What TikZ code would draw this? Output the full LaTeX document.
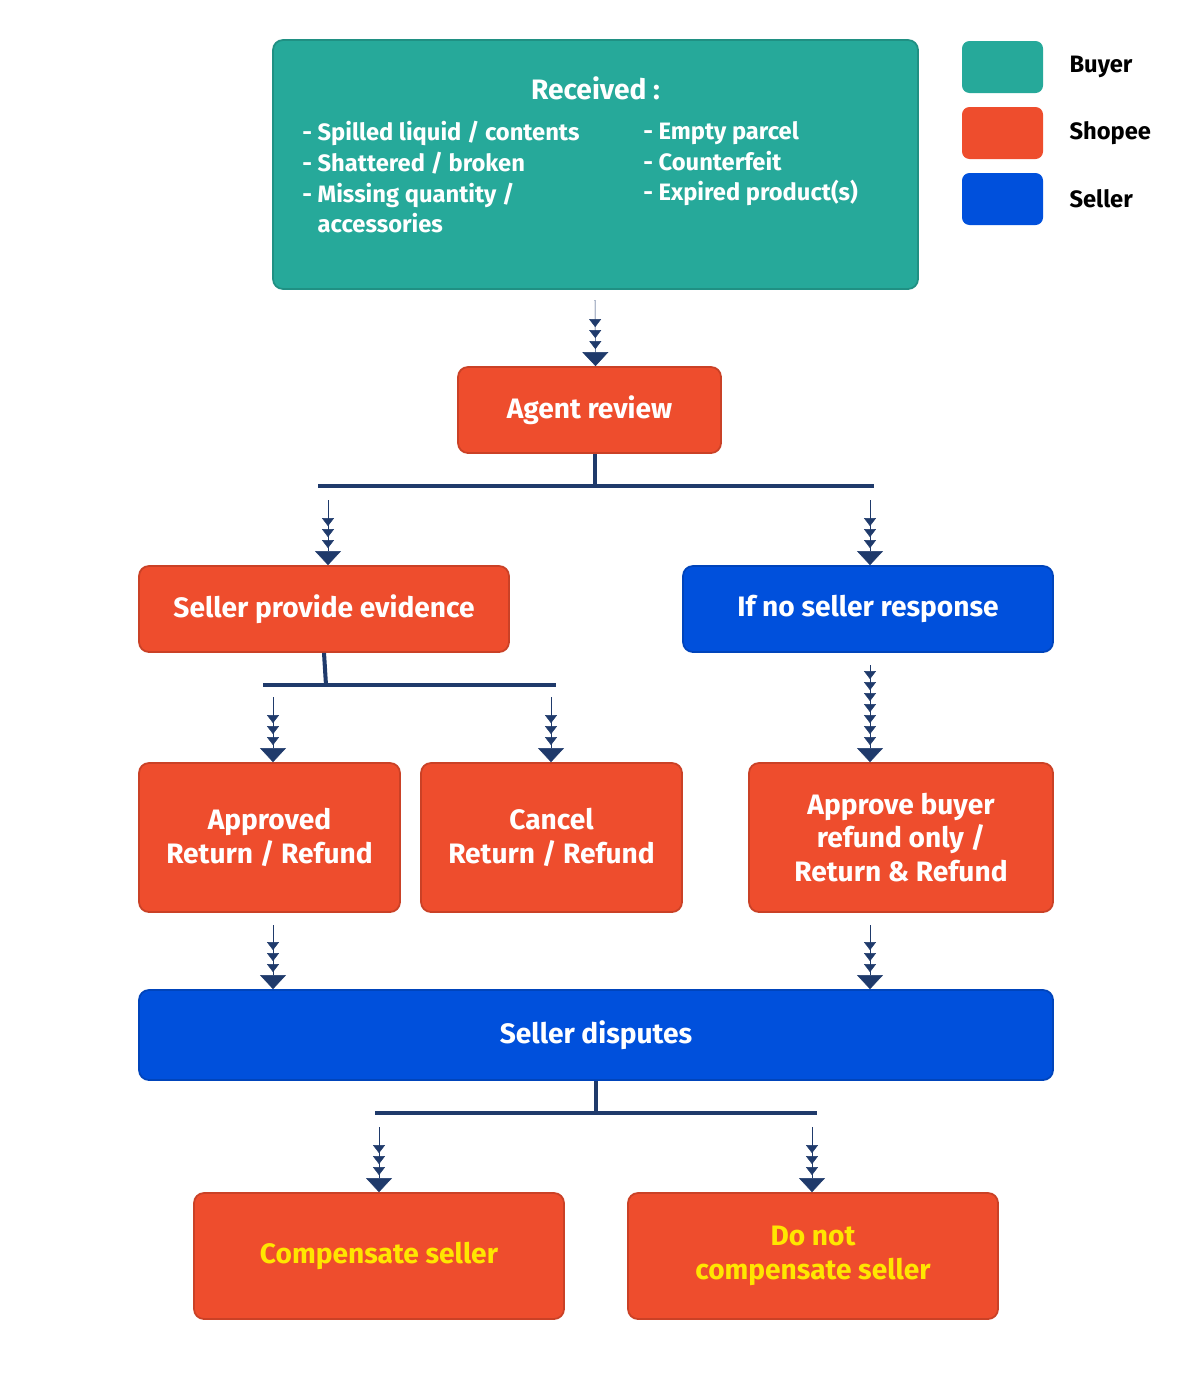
\documentclass[tikz,border=0pt]{standalone}
\usepackage{fontspec}
\setmainfont{Fira Sans}
\usetikzlibrary{arrows.meta}
\definecolor{buyer}{HTML}{26A99A}
\definecolor{shopee}{HTML}{EE4D2D}
\definecolor{seller}{HTML}{0050DC}
\definecolor{navy}{HTML}{1F3A6B}
\definecolor{hilite}{HTML}{FFE600}
\newcommand{\smalltip}{Triangle[width=.24cm,length=.16cm,sep=.06cm]}
\tikzset{
  box/.style={rounded corners=.2cm, minimum height=1.72cm, text=white, align=center,
    font=\bfseries\fontsize{16}{19}\selectfont, inner sep=0pt},
  buyerbox/.style={box, fill=buyer, draw=buyer!85!black, line width=1pt},
  shopeebox/.style={box, fill=shopee, draw=shopee!85!black, line width=1pt},
  sellerbox/.style={box, fill=seller, draw=seller!85!black, line width=1pt},
  bar/.style={navy, line width=2.3pt},
  dots3/.style={navy, line width=.3pt, -{\smalltip\smalltip\smalltip Triangle[width=.52cm,length=.28cm]}},
  dots7/.style={navy, line width=.3pt, -{\smalltip\smalltip\smalltip\smalltip\smalltip\smalltip\smalltip Triangle[width=.52cm,length=.28cm]}},
  legend/.style={rounded corners=.15cm, minimum width=1.62cm, minimum height=1.04cm, inner sep=0pt},
  item/.style={text=white, font=\bfseries\fontsize{13.5}{17.5}\selectfont, align=left, anchor=north west, inner sep=0pt}
}
\begin{document}
\begin{tikzpicture}
  \useasboundingbox (0,0) rectangle (24,-27.68);

  % Buyer box
  \node[buyerbox, minimum width=12.9cm, minimum height=4.98cm] (received) at (11.91,-3.29) {};
  \node[text=white, font=\bfseries\fontsize{16}{19}\selectfont] (title) at (11.91,-1.76) {Received :};
  \node[item] (leftcol) at (6.04,-2.42) {- Spilled liquid / contents\\- Shattered / broken\\- Missing quantity /\\\hphantom{- }accessories};
  \node[item] (rightcol) at (12.86,-2.42) {- Empty parcel\\- Counterfeit\\- Expired product(s)};

  % Flow nodes
  \node[shopeebox, minimum width=5.26cm] (agent) at (11.79,-8.2) {Agent review};
  \node[shopeebox, minimum width=7.4cm] (evidence) at (6.48,-12.18) {Seller provide evidence};
  \node[sellerbox, minimum width=7.4cm] (noresp) at (17.36,-12.18) {If no seller response};
  \node[shopeebox, minimum width=5.22cm, minimum height=2.98cm] (approved) at (5.39,-16.75) {Approved\\Return / Refund};
  \node[shopeebox, minimum width=5.22cm, minimum height=2.98cm] (cancel) at (11.03,-16.75) {Cancel\\Return / Refund};
  \node[shopeebox, minimum width=6.08cm, minimum height=2.98cm] (approvebuyer) at (18.02,-16.75) {Approve buyer\\refund only /\\Return \& Refund};
  \node[sellerbox, minimum width=18.28cm, minimum height=1.8cm] (disputes) at (11.92,-20.7) {Seller disputes};
  \node[shopeebox, minimum width=7.4cm, minimum height=2.52cm, text=hilite] (comp) at (7.58,-25.12) {Compensate seller};
  \node[shopeebox, minimum width=7.4cm, minimum height=2.52cm, text=hilite] (nocomp) at (16.26,-25.12) {Do not\\compensate seller};

  % Legend
  \node[legend, fill=buyer] (lbuyer) at (20.05,-1.34) {};
  \node[legend, fill=shopee] (lshopee) at (20.05,-2.66) {};
  \node[legend, fill=seller] (lseller) at (20.05,-3.98) {};
  \foreach \n/\t in {lbuyer/Buyer, lshopee/Shopee, lseller/Seller}
    \node[anchor=west, font=\bfseries\fontsize{13.5}{16}\selectfont] at ([xshift=.4cm]\n.east) {\t};

  % Arrows and bars
  \coordinate (s0) at (11.9,-6.0);
  \draw[dots3] (s0) -- (received.south |- agent.north);

  \draw[bar] (agent.south -| 11.9,0) -- (11.9,-9.72);
  \draw[bar] (6.36,-9.72) -- (17.48,-9.72);
  \coordinate (s1) at (6.56,-10.0);
  \coordinate (s2) at (17.4,-10.0);
  \draw[dots3] (s1) -- (s1 |- evidence.north);
  \draw[dots3] (s2) -- (s2 |- noresp.north);

  \draw[bar] (evidence.south) -- (6.52,-13.7);
  \draw[bar] (5.26,-13.7) -- (11.12,-13.7);
  \coordinate (s3) at (5.46,-13.94);
  \coordinate (s4) at (11.02,-13.94);
  \draw[dots3] (s3) -- (s3 |- approved.north);
  \draw[dots3] (s4) -- (s4 |- cancel.north);
  \coordinate (s5) at (17.4,-13.3);
  \draw[dots7] (s5) -- (s5 |- approvebuyer.north);

  \coordinate (s6) at (5.46,-18.5);
  \coordinate (s7) at (17.4,-18.5);
  \draw[dots3] (s6) -- (s6 |- disputes.north);
  \draw[dots3] (s7) -- (s7 |- disputes.north);

  \draw[bar] (disputes.south) -- (11.92,-22.26);
  \draw[bar] (7.5,-22.26) -- (16.34,-22.26);
  \coordinate (s8) at (7.58,-22.54);
  \coordinate (s9) at (16.24,-22.54);
  \draw[dots3] (s8) -- (s8 |- comp.north);
  \draw[dots3] (s9) -- (s9 |- nocomp.north);
\end{tikzpicture}
\end{document}
